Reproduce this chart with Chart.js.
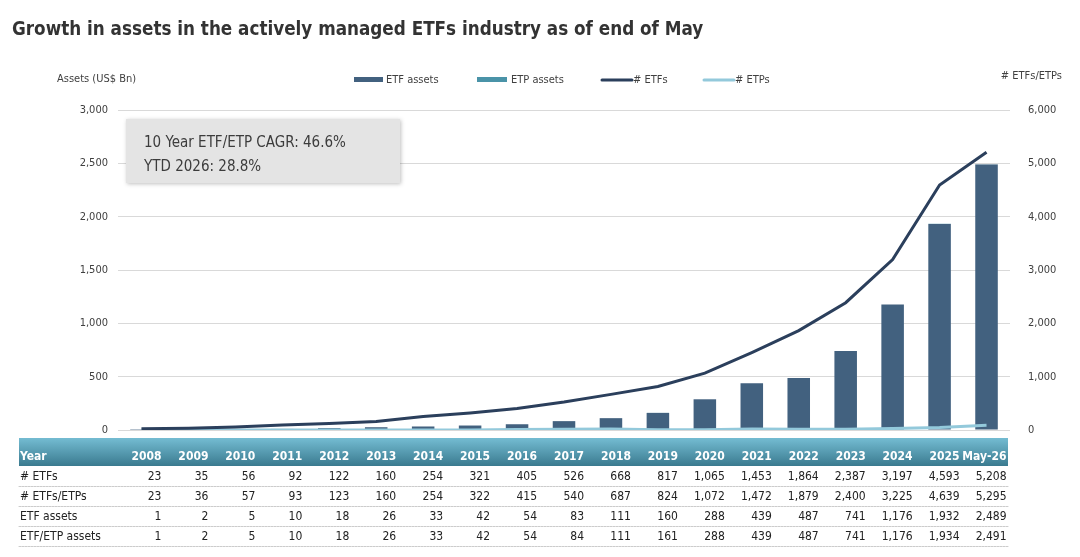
<!DOCTYPE html>
<html>
<head>
<meta charset="utf-8">
<script src="https://cdn.jsdelivr.net/npm/chart.js@4"></script>
<style>
  html, body { margin: 0; padding: 0; background: #fff; }
  #wrap { width: 1080px; height: 557px; position: relative; }
</style>
</head>
<body>
<div id="wrap"><canvas id="myChart" width="1080" height="557"></canvas></div>
<script>
let years = ['2008', '2009', '2010', '2011', '2012', '2013', '2014', '2015', '2016', '2017',
  '2018', '2019', '2020', '2021', '2022', '2023', '2024', '2025', 'May-26'];
let etfCount = [23, 35, 56, 92, 122, 160, 254, 321, 405, 526, 668, 817, 1065, 1453, 1864, 2387, 3197, 4593, 5208];
let etfEtpCount = [23, 36, 57, 93, 123, 160, 254, 322, 415, 540, 687, 824, 1072, 1472, 1879, 2400, 3225, 4639, 5295];
let etfAssets = [1, 2, 5, 10, 18, 26, 33, 42, 54, 83, 111, 160, 288, 439, 487, 741, 1176, 1932, 2489];
let etfEtpAssets = [1, 2, 5, 10, 18, 26, 33, 42, 54, 84, 111, 161, 288, 439, 487, 741, 1176, 1934, 2491];
let etpCount = [0, 1, 1, 1, 1, 0, 0, 1, 10, 14, 19, 7, 7, 19, 15, 13, 28, 46, 87];
let etpAssets = [0, 0, 0, 0, 0, 0, 0, 0, 0, 1, 0, 1, 0, 0, 0, 0, 0, 2, 2];
let leftTicks = [0, 500, 1000, 1500, 2000, 2500, 3000];
let rightTicks = [0, 1000, 2000, 3000, 4000, 5000, 6000];

let font = 'Tahoma, "DejaVu Sans Condensed", "DejaVu Sans", sans-serif';
let cEtf = '#42617f';
let cEtp = '#4a93a8';
let cEtfLine = '#2b3f5c';
let cEtpLine = '#93c9db';
let textCol = '#404040';

let tableRows = [
  ['# ETFs', etfCount],
  ['# ETFs/ETPs', etfEtpCount],
  ['ETF assets', etfAssets],
  ['ETF/ETP assets', etfEtpAssets]
];

let fmt = (v) => v.toLocaleString('en-US');

let extras = {
  id: 'extras',
  afterDraw(chart) {
    let c = chart.ctx;
    let x = chart.scales.x;
    c.save();

    // title
    c.fillStyle = '#333333';
    c.font = 'bold 18.7px ' + font;
    c.textBaseline = 'middle';
    c.textAlign = 'left';
    c.fillText('Growth in assets in the actively managed ETFs industry as of end of May', 12, 30);

    // axis titles
    c.font = '11px ' + font;
    c.fillStyle = textCol;
    c.fillText('Assets (US$ Bn)', 57, 79);
    c.textAlign = 'right';
    c.fillText('# ETFs/ETPs', 1062, 76);

    // legend
    c.textAlign = 'left';
    c.fillStyle = cEtf;
    c.fillRect(354, 77, 29, 5);
    c.fillStyle = cEtp;
    c.fillRect(477, 77, 30, 5);
    c.lineCap = 'round';
    c.lineWidth = 3;
    c.strokeStyle = cEtfLine;
    c.beginPath(); c.moveTo(602, 80); c.lineTo(632, 80); c.stroke();
    c.strokeStyle = cEtpLine;
    c.beginPath(); c.moveTo(704, 80); c.lineTo(734, 80); c.stroke();
    c.fillStyle = textCol;
    c.fillText('ETF assets', 386, 80);
    c.fillText('ETP assets', 511, 80);
    c.fillText('# ETFs', 633, 80);
    c.fillText('# ETPs', 735, 80);

    // CAGR box
    c.shadowColor = 'rgba(0,0,0,0.25)';
    c.shadowBlur = 4;
    c.shadowOffsetX = 1;
    c.shadowOffsetY = 1;
    c.fillStyle = '#e4e4e4';
    c.fillRect(126, 119, 274, 64);
    c.shadowColor = 'transparent';
    c.fillStyle = '#3c3c3c';
    c.font = '15px ' + font;
    c.fillText('10 Year ETF/ETP CAGR: 46.6%', 144, 143);
    c.fillText('YTD 2026: 28.8%', 144, 167);

    // table header band
    let g = c.createLinearGradient(0, 438, 0, 466);
    g.addColorStop(0, '#74bcd2');
    g.addColorStop(1, '#3a7a8f');
    c.fillStyle = g;
    c.fillRect(19, 438, 989, 28);
    c.fillStyle = '#ffffff';
    c.font = 'bold 12px ' + font;
    c.fillText('Year', 20, 457);
    c.textAlign = 'right';
    years.forEach((y, i) => {
      c.fillText(y, x.getPixelForValue(i) + 20, 457);
    });

    // table rows
    c.font = '12px ' + font;
    tableRows.forEach((row, r) => {
      let ty = 477 + r * 20;
      c.fillStyle = '#222222';
      c.textAlign = 'left';
      c.fillText(row[0], 20, ty);
      c.textAlign = 'right';
      row[1].forEach((v, i) => {
        c.fillText(fmt(v), x.getPixelForValue(i) + 20, ty);
      });
      c.strokeStyle = '#cccccc';
      c.lineWidth = 1;
      c.setLineDash([2, 1]);
      c.beginPath();
      c.moveTo(19, ty + 9.5);
      c.lineTo(1008, ty + 9.5);
      c.stroke();
      c.setLineDash([]);
    });

    c.restore();
  }
};

let ctx = document.getElementById('myChart').getContext('2d');
let myChart = new Chart(ctx, {
  type: 'bar',
  data: {
    labels: years,
    datasets: [{
      label: '# ETFs',
      type: 'line',
      data: etfCount,
      yAxisID: 'y1',
      borderColor: cEtfLine,
      borderWidth: 3,
      pointRadius: 0,
      tension: 0,
      order: 0
    }, {
      label: '# ETPs',
      type: 'line',
      data: etpCount,
      yAxisID: 'y1',
      borderColor: cEtpLine,
      borderWidth: 3,
      pointRadius: 0,
      tension: 0,
      order: 1
    }, {
      label: 'ETF assets',
      data: etfAssets,
      yAxisID: 'y',
      backgroundColor: cEtf,
      stack: 'a',
      barPercentage: 0.48,
      categoryPercentage: 1,
      order: 2
    }, {
      label: 'ETP assets',
      data: etpAssets,
      yAxisID: 'y',
      backgroundColor: cEtp,
      stack: 'a',
      barPercentage: 0.48,
      categoryPercentage: 1,
      order: 2
    }]
  },
  options: {
    responsive: false,
    animation: false,
    layout: { padding: { top: 110, bottom: 119, left: 0, right: 0 } },
    plugins: {
      legend: { display: false },
      tooltip: { enabled: false }
    },
    scales: {
      x: {
        stacked: true,
        grid: { display: false },
        border: { display: false },
        ticks: { display: false }
      },
      y: {
        position: 'left',
        stacked: true,
        min: 0,
        max: 3000,
        afterFit: (s) => { s.width = 118; },
        afterBuildTicks: (s) => { s.ticks = leftTicks.map(v => ({ value: v })); },
        grid: { color: '#d9d9d9', drawTicks: false },
        border: { display: false },
        ticks: {
          color: textCol,
          padding: 10,
          font: { family: font, size: 11 },
          callback: (v) => fmt(v)
        }
      },
      y1: {
        position: 'right',
        min: 0,
        max: 6000,
        afterFit: (s) => { s.width = 70; },
        afterBuildTicks: (s) => { s.ticks = rightTicks.map(v => ({ value: v })); },
        grid: { display: false },
        border: { display: false },
        ticks: {
          color: textCol,
          padding: 10,
          font: { family: font, size: 11 },
          callback: (v) => fmt(v)
        }
      }
    }
  },
  plugins: [extras]
});
</script>
</body>
</html>
